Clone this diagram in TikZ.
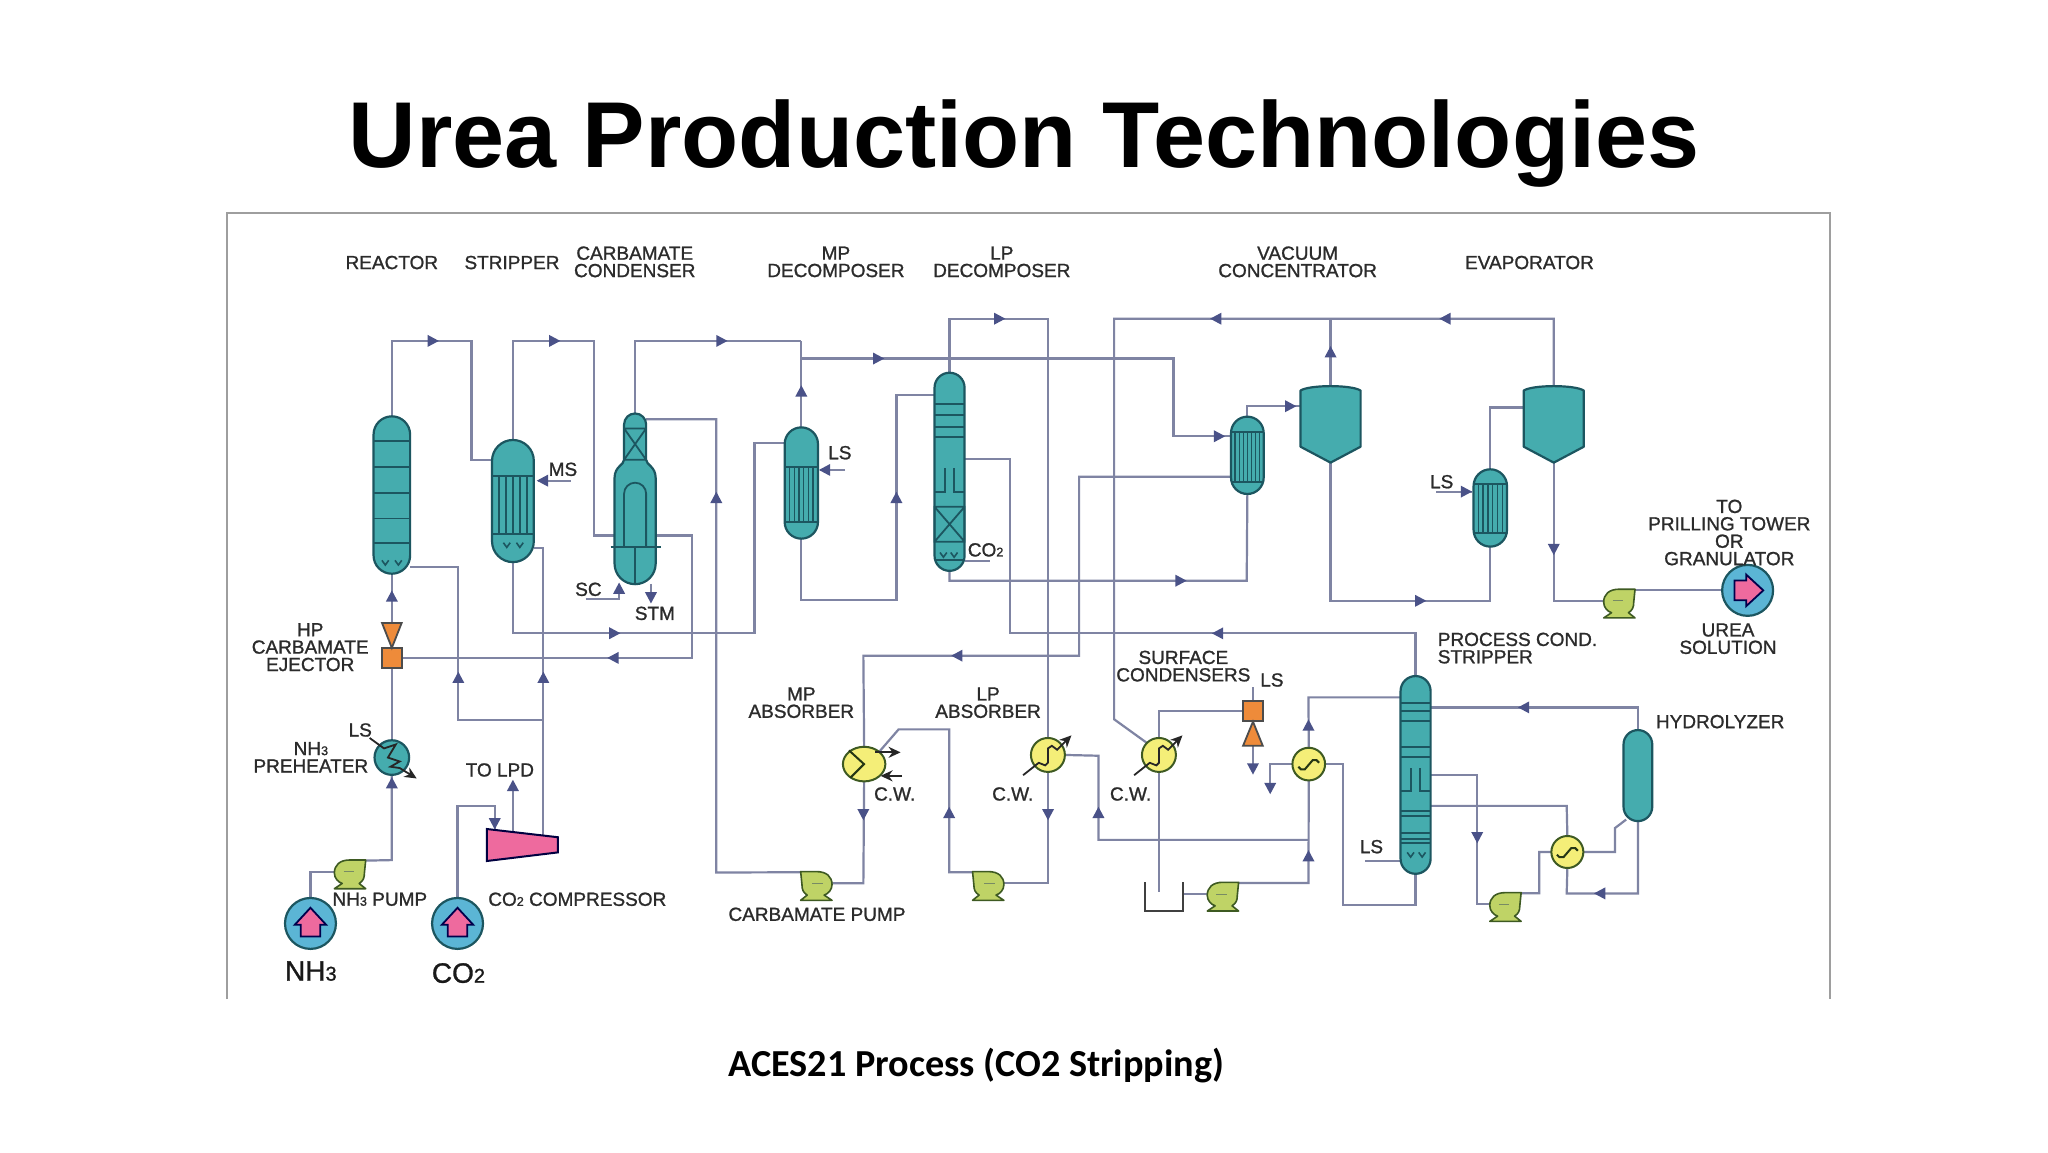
\documentclass[tikz,border=0pt]{standalone}
\usepackage{fontspec}
\setmainfont{Liberation Sans}
\newfontfamily\capfont{Carlito}
\newfontfamily\lblfont[FakeBold=1.1]{Liberation Sans}
\usetikzlibrary{arrows.meta,shapes.geometric}
\pgfdeclarelayer{bg}
\pgfsetlayers{bg,main}
\definecolor{teal1}{HTML}{45ACAE}
\definecolor{tealdk}{HTML}{1C5660}
\definecolor{pipec}{HTML}{7F84A3}
\definecolor{arrc}{HTML}{4A5288}
\definecolor{txt}{HTML}{2B2B2B}
\definecolor{pumpf}{HTML}{BFD366}
\definecolor{pumpd}{HTML}{3E5A22}
\definecolor{hxf}{HTML}{F4EE78}
\definecolor{orng}{HTML}{EE8B3A}
\definecolor{pinkf}{HTML}{EE6A9E}
\definecolor{bluef}{HTML}{5BB5D5}
\newcommand\lowsub[1]{{\fontsize{6.3}{6}\selectfont #1}}
\newcommand\bigsub[1]{{\fontsize{10}{10}\selectfont #1}}
\newcommand\tubebundle[5]{%
  \draw[inner] (#1,#3)--(#2,#3) (#1,#4)--(#2,#4);
  \foreach \k in {1,...,#5}{\draw[inner,line width=.7pt] ({#1+(#2-#1)*\k/(#5+1)},#3)--({#1+(#2-#1)*\k/(#5+1)},#4);}}
\newcommand\bub[2]{\draw[inner,line width=.8pt] ({#1-2.6},{#2-2})--(#1,{#2+1.6})--({#1+2.6},{#2-2});}
\newcommand\flowmark[3]{\path (#1,#2) pic[rotate=#3] {fa};}
\tikzset{
  x=0.65306pt,y=-0.65306pt,
  pipe/.style={draw=pipec,line width=1.1pt,line join=miter},
  inner/.style={draw=tealdk,line width=.9pt},
  lbl/.style={inner sep=0pt,text=txt,align=center,font=\lblfont\fontsize{9.5}{8.7}\selectfont},
  vessel/.style n args={2}{draw=tealdk,fill=teal1,line width=1.1pt,rectangle,inner sep=0pt,outer sep=0pt,
     rounded corners=0.5*#1*0.65306pt,minimum width=#1*0.65306pt,minimum height=#2*0.65306pt},
  ghost/.style n args={2}{rectangle,inner sep=0pt,outer sep=0pt,minimum width=#1*0.65306pt,minimum height=#2*0.65306pt},
  shellf/.style={draw=tealdk,fill=teal1,line width=1.1pt,line join=round},
  hx/.style={circle,draw=pumpd,fill=hxf,line width=1pt,inner sep=0pt,outer sep=0pt,minimum size=#1*0.65306pt},
  box/.style={rectangle,draw=black!70,fill=orng,line width=.9pt,inner sep=0pt,outer sep=0pt,minimum size=#1*0.65306pt},
  feed/.style={circle,draw=tealdk,fill=bluef,line width=1.1pt,inner sep=0pt,outer sep=0pt,minimum size=39*0.65306pt},
  cwarrow/.style={draw=black!85,line width=.9pt,-{Stealth[length=6pt,width=5.5pt]}},
  fa/.pic={\fill[arrc] (-3.6,-4.6)--(5,0)--(-3.6,4.6)--cycle;},
  pump/.pic={
    \draw[draw=pumpd,fill=pumpf,line width=.8pt,line join=round]
      (13,-9)--(1,-9) .. controls (-7,-9) and (-11,-5) .. (-11,1) .. controls (-11,5) and (-8,8) .. (-5,9)
      --(-11,13)--(13,13)--(8,9) .. controls (11,7) and (12,5) .. (12,1)--cycle;
    \draw[draw=pumpd!70,line width=.5pt] (-4,0)--(4,0);
    \coordinate (-c) at (0,0);
    \coordinate (-out) at (13,-8.5);
  },
  hxa/.pic={\draw[draw=black!85,line width=.9pt,-{Stealth[length=6pt,width=5.5pt]}]
     (-19,15.5)--(-7,6)--(-2,8)--(0,6)--(0,-5)--(3,-7)--(7,-4)--(18,-15);},
  hxb/.pic={\draw[draw=pumpd!60!black,line width=1pt] (-8,2)--(-6,4)--(-3,4)--(3,-3)--(6,-3)--(8,-1);},
  hxc/.pic={\draw[draw=black!85,line width=.9pt,-{Stealth[length=6pt,width=5.5pt]}]
     (-17,-15)--(-6,-7)--(3,-10)--(-3,0)--(6,3)--(-1,7)--(6,8)--(19,16);},
  inarrow/.pic={\draw[draw=black!70!blue,fill=pinkf,line width=.9pt,line join=miter]
     (0,-12)--(12,1)--(7.5,1)--(7.5,10)--(-7.5,10)--(-7.5,1)--(-12,1)--cycle;},
}
\begin{document}
\begin{tikzpicture}
\useasboundingbox (0,0) rectangle (1568,882);
\node[inner sep=0pt,anchor=base,text=black,font=\fontsize{46.8}{46.8}\selectfont\bfseries] (title) at (784,128.5) {Urea Production Technologies};
\node[inner sep=0pt,anchor=base,text=black,font=\capfont\fontsize{19.1}{19.1}\selectfont\bfseries] (caption) at (747.5,824) {ACES21 Process (CO2 Stripping)};

% vessels
\node[vessel={28}{120.5}] (reactor) at (300,379) {};
\foreach \y in {337.5,357.3,377.2,397,416}{\draw[inner] (reactor.west |- 0,\y)--(reactor.east |- 0,\y);}
\bub{295}{431}\bub{305}{431}
\node[vessel={32}{93.5}] (stripper) at (392.7,383.6) {};
\tubebundle{376.7}{408.7}{364.2}{408.8}{5}
\bub{388}{417.5}\bub{398}{417.5}
\node[vessel={25.5}{85.2}] (mpd) at (613.5,369.8) {};
\tubebundle{600.8}{626.2}{357.3}{399.4}{6}
\node[vessel={23}{151.7}] (lpd) at (727,361.2) {};
\foreach \y in {309.3,318,326.7,334.8,429}{\draw[inner] (lpd.west |- 0,\y)--(lpd.east |- 0,\y);}
\draw[inner] (715.5,376.4)--(723.7,376.4)--(723.7,358.6) (730.5,358.6)--(730.5,376.4)--(738.5,376.4);
\draw[inner] (715.5,388) rectangle (738.5,414.7) (715.5,388)--(738.5,414.7) (715.5,414.7)--(738.5,388);
\bub{722.3}{425}\bub{730.5}{425}
\node[vessel={25}{59.2}] (vacx) at (955,348.6) {};
\tubebundle{942.5}{967.5}{331}{368.8}{7}
\node[vessel={25.6}{59.2}] (evax) at (1141,388.9) {};
\tubebundle{1128.2}{1153.8}{370.6}{408.3}{6}
\node[vessel={23}{151.4}] (pcs) at (1083.8,593.3) {};
\foreach \y in {538.5,544.1,552,572.2,579.3,620.7,624.5,638,642.4,645.7}{\draw[inner] (pcs.west |- 0,\y)--(pcs.east |- 0,\y);}
\draw[inner] (1072.3,605.4)--(1080,605.4)--(1080,588.2) (1087.4,588.2)--(1087.4,605.4)--(1095.3,605.4);
\bub{1080}{654.6}\bub{1088.8}{654.6}
\node[vessel={22}{69.7}] (hyd) at (1254,593.8) {};

% hopper vessels
\foreach \nm/\cx in {vac/1018.7,eva/1189.6}{
  \draw[shellf] (\cx-23,299) .. controls (\cx-16,294.5) and (\cx+16,294.5) .. (\cx+23,299)
     --(\cx+23,342)--(\cx,354.2)--(\cx-23,342)--cycle;
  \node[ghost={46}{58.9}] (\nm) at (\cx,325) {};
}
% condenser
\draw[shellf] (477.8,325) arc[start angle=180,end angle=360,radius=8.45] --(494.7,352)
   .. controls (494.7,356) and (502,357) .. (502,366) --(502,431.5)
   arc[start angle=0,end angle=180,radius=15.75] --(470.5,366)
   .. controls (470.5,357) and (477.8,356) .. (477.8,352) --cycle;
\node[ghost={31.5}{131}] (cond) at (486.2,382) {};
\coordinate (condneck) at (494.7,321);
\draw[inner] (477.8,328)--(494.7,328) (477.8,352)--(494.7,352) (477.8,328)--(494.7,352) (494.7,328)--(477.8,352);
\draw[inner] (477.8,419)--(477.8,378) arc[start angle=180,end angle=360,radius=8.45] --(494.7,419);
\draw[inner] (467.5,419)--(506,419) (486.2,419)--(486.2,447);

% ejectors
\node[box=15] (ej1) at (300,503.7) {};
\draw[draw=black!70,fill=orng,line width=.9pt] (292.5,477)--(307.5,477)--(300,496)--cycle;
\coordinate (ej1top) at (300,477);
\node[box=15] (ej2) at (959.3,544.2) {};
\draw[draw=black!70,fill=orng,line width=.9pt] (951.7,571)--(966.8,571)--(959.3,552.5)--cycle;
\coordinate (ej2bot) at (959.3,571);

% compressor
\draw[draw=black!75!blue,fill=pinkf,line width=1pt,line join=miter] (372.7,634.7)--(427.2,641)--(427.2,652.6)--(372.7,659.2)--cycle;
\coordinate (compin) at (378.8,636);
\coordinate (compa) at (392.7,637);
\coordinate (compb) at (416,639);

% exchangers
\node[hx=26] (xlp) at (802.3,578) {};
\path (xlp) pic {hxa};
\node[hx=26] (xsc) at (887.3,578) {};
\path (xsc) pic {hxa};
\node[hx=25] (x2) at (1002,585) {};
\path (x2) pic {hxb};
\node[hx=24.5] (x3) at (1200,652.3) {};
\path (x3) pic {hxb};
\node[circle,draw=tealdk,fill=teal1,line width=1.1pt,inner sep=0pt,outer sep=0pt,minimum size=26.5*0.65306pt] (pre) at (300,580) {};
\path (pre) pic {hxc};
\node[ellipse,draw=pumpd,fill=hxf,line width=1pt,inner sep=0pt,outer sep=0pt,minimum width=32.5*0.65306pt,minimum height=26.5*0.65306pt] (xmp) at (661.6,585) {};
\draw[draw=pumpd!60!black,line width=1pt] (650,574.5)--(661.5,585)--(651,595.5);
\coordinate (xmpa) at (670,576);
\coordinate (xmpb) at (690.6,594);
\coordinate (xmpc) at (674.2,594);
\coordinate (xmpd) at (689.5,576);
\draw[cwarrow] (xmpa)--(xmpd);
\draw[cwarrow] (xmpb)--(xmpc);

% feed circles
\node[feed] (nh3f) at (237.7,707) {};
\path (nh3f) pic {inarrow};
\node[feed] (co2f) at (350.3,707) {};
\path (co2f) pic {inarrow};
\node[feed] (urea) at (1338,452) {};
\path (urea) pic[rotate=-90] {inarrow};

% pumps
\path (267,667.4) pic (p1) {pump};
\path (626,676.3) pic[xscale=-1] (p2) {pump};
\path (757.6,676.3) pic[xscale=-1] (p3) {pump};
\path (935.3,684.5) pic (p4) {pump};
\path (1151.6,692.4) pic (p5) {pump};
\path (1238.8,460.1) pic (p6) {pump};

% tank
\draw[draw=black!75,line width=1pt] (876.5,675.5)--(876.5,697.2)--(905.8,697.2)--(905.8,675.5);
\coordinate (tankr) at (905.8,684.5);
\coordinate (tanki) at (887.5,682.7);

% free ends
\coordinate (msa) at (436.9,368);
\coordinate (msb) at (412,368);
\coordinate (sca) at (448.4,458.6);
\coordinate (scb) at (474,448);
\coordinate (stma) at (498.4,447);
\coordinate (stmb) at (498.4,460);
\coordinate (lpda) at (392.7,598.5);
\coordinate (lsa) at (647,359.8);
\coordinate (lsb) at (628,359.8);
\coordinate (lsc) at (1099.8,376.4);
\coordinate (lsd) at (1127,376.4);
\coordinate (co2a) at (758,429.3);
\coordinate (lsf) at (1045,659);
\coordinate (lsg) at (959.3,525.7);
\coordinate (ej2out) at (959.3,590);
\coordinate (x2out) at (972.5,605);

\begin{pgfonlayer}{bg}
\fill[white] (0,0) rectangle (1568,882);
\draw[draw=black!38,line width=.8pt] (174,765)--(174,163)--(1401,163)--(1401,765);
\draw[pipe] (reactor.north)--(300,261)--(361,261)--(361,352)--(stripper.west |- 0,352);
\draw[pipe] (stripper.north)--(392.7,261)--(454.5,261)--(454.5,410)--(cond.west |- 0,410);
\draw[pipe] (cond.north)--(486.2,261)--(613.5,261);
\draw[pipe] (mpd.north)--(613.5,261);
\draw[pipe] (613.5,274.5)--(898.5,274.5)--(898.5,334)--(vacx.west |- 0,334);
\draw[pipe] (condneck)--(548.4,321)--(548.4,668)--(p2-out);
\draw[pipe] (p2-c)--(661,676.3)--(xmp.south);
\draw[pipe] (reactor.east |- 0,434.4)--(350.9,434.4)--(350.9,551)--(416,551);
\draw[pipe] (stripper.east |- 0,419.8)--(416,419.8)--(compb);
\draw[pipe] (stripper.south)--(392.7,484.8)--(577.7,484.8)--(577.7,338.9)--(mpd.west |- 0,338.9);
\draw[pipe] (ej1.east)--(530,503.7)--(530,410)--(cond.east |- 0,410);
\draw[pipe] (reactor.south)--(ej1top);
\draw[pipe] (ej1.south)--(pre.north);
\draw[pipe] (pre.south)--(300,658.5)--(p1-out);
\draw[pipe] (nh3f.north)--(237.7,667.4)--(p1-c);
\draw[pipe] (co2f.north)--(350.3,617)--(378.8,617)--(compin);
\draw[pipe] (compa)--(lpda);
\draw[pipe] (mpd.south)--(613.5,459.4)--(686.3,459.4)--(686.3,302.4)--(lpd.west |- 0,302.4);
\draw[pipe] (lpd.north)--(727,244)--(802.4,244)--(802.4,676.3)--(p3-c);
\draw[pipe] (p3-out)--(726.7,667.8)--(726.7,558.4)--(688,558.4)--(xmp.north east);
\draw[pipe] (lpd.east |- 0,351.7)--(773.5,351.7)--(773.5,484.9)--(1083.8,484.9)--(pcs.north);
\draw[pipe] (lpd.south)--(727,444.6)--(954.5,444.6)--(vacx.south);
\draw[pipe] (vacx.west |- 0,365)--(826.2,365)--(826.2,502)--(661,502)--(xmp.north);
\draw[pipe] (eva.north)--(1189.6,244)--(853,244)--(853,550.7)--(xsc.north west);
\draw[pipe] (vac.north)--(1018.7,244);
\draw[pipe] (vacx.north)--(955,311)--(vac.west |- 0,311);
\draw[pipe] (vac.south)--(1018.7,460)--(1141,460)--(evax.south);
\draw[pipe] (evax.north)--(1141,312)--(eva.west |- 0,312);
\draw[pipe] (eva.south)--(1189.6,460.1)--(p6-c);
\draw[pipe] (p6-out)--(urea.west |- p6-out);
\draw[pipe] (ej2.west)--(887.5,544.2)--(tanki);
\draw[pipe] (xlp.east)--(841,578.6)--(841,643)--(1001.8,643);
\draw[pipe] (tankr)--(p4-c);
\draw[pipe] (p4-out)--(1001.8,676)--(x2.south);
\draw[pipe] (x2.north)--(1001.8,533.9)--(pcs.west |- 0,533.9);
\draw[pipe] (x2.east)--(1028,585)--(1028,692.9)--(1083.8,692.9)--(pcs.south);
\draw[pipe] (x2.west)--(972.5,585)--(x2out);
\draw[pipe] (pcs.east |- 0,541.6)--(1254,541.6)--(hyd.north);
\draw[pipe] (pcs.east |- 0,593.4)--(1131,593.4)--(1131,692.4)--(p5-c);
\draw[pipe] (pcs.east |- 0,617)--(1199.5,617)--(x3.north);
\draw[pipe] (p5-out)--(1178.4,683.9)--(1178.4,652.3)--(x3.west);
\draw[pipe] (x3.east)--(1236.4,652.3)--(1236.4,634)--(1245,627.5);
\draw[pipe] (hyd.south)--(1254,684)--(1199.5,684)--(x3.south);
\draw[pipe] (ej2.north)--(lsg);
\draw[pipe] (ej2bot)--(ej2out);
\draw[pipe] (msa)--(msb);
\draw[pipe] (sca)--(474,458.6)--(scb);
\draw[pipe] (stma)--(stmb);
\draw[pipe] (lsa)--(lsb);
\draw[pipe] (lsc)--(lsd);
\draw[pipe] (lpd.east |- co2a)--(co2a);
\draw[pipe] (pcs.west |- lsf)--(lsf);
\end{pgfonlayer}

% flow marks
\flowmark{331}{261}{0}\flowmark{424}{261}{0}\flowmark{552}{261}{0}
\flowmark{672}{274.5}{0}\flowmark{933}{334}{0}\flowmark{764.7}{244}{0}
\flowmark{931.5}{244}{180}\flowmark{1107}{244}{180}\flowmark{613.5}{300}{90}
\flowmark{1018.7}{270}{90}\flowmark{987.5}{311}{0}\flowmark{1189.6}{420}{-90}
\flowmark{1087}{460}{0}\flowmark{903.5}{444.6}{0}\flowmark{932.9}{484.9}{180}
\flowmark{733.3}{502}{180}\flowmark{686.3}{381.5}{90}\flowmark{548.4}{381.5}{90}
\flowmark{300}{457}{90}\flowmark{470}{484.8}{0}\flowmark{470}{503.7}{180}
\flowmark{350.9}{519.3}{90}\flowmark{416}{519.3}{90}\flowmark{300}{600}{90}
\flowmark{378.8}{630}{-90}\flowmark{392.7}{602}{90}\flowmark{661}{623}{-90}
\flowmark{726.7}{622.7}{90}\flowmark{802.4}{623}{-90}\flowmark{841}{622.7}{90}
\flowmark{1001.8}{555.8}{90}\flowmark{1001.8}{655.9}{90}\flowmark{959.3}{588}{-90}
\flowmark{972.5}{603}{-90}\flowmark{1131}{640.6}{-90}\flowmark{1167.2}{541.6}{180}
\flowmark{1225.4}{684}{180}\flowmark{416}{368}{180}\flowmark{632}{359.8}{180}
\flowmark{1122}{376.4}{0}\flowmark{474}{451}{90}\flowmark{498.4}{457}{-90}

% labels
\node[lbl] (t1) at (300,201) {REACTOR};
\node[lbl] (t2) at (392,201) {STRIPPER};
\node[lbl] (t3) at (486,200.5) {CARBAMATE\\CONDENSER};
\node[lbl] (t4) at (640,200.5) {MP\\DECOMPOSER};
\node[lbl] (t5) at (767,200.5) {LP\\DECOMPOSER};
\node[lbl] (t6) at (993.5,200.5) {VACUUM\\CONCENTRATOR};
\node[lbl] (t7) at (1171,201) {EVAPORATOR};
\node[lbl] (t8) at (431,359.3) {MS};
\node[lbl] (t9) at (450.5,451.2) {SC};
\node[lbl] (t10) at (501.4,469.6) {STM};
\node[lbl] (t11) at (643,346.6) {LS};
\node[lbl] (t12) at (754.6,421) {CO\lowsub{2}};
\node[lbl] (t13) at (1103.8,368.8) {LS};
\node[lbl] (t14) at (1324,407.7) {TO\\PRILLING TOWER\\OR\\GRANULATOR};
\node[lbl] (t15) at (1323,489) {UREA\\SOLUTION};
\node[lbl,anchor=west,align=left] (t16) at (1100.5,496.2) {PROCESS COND.\\STRIPPER};
\node[lbl] (t17) at (237.5,495.5) {HP\\CARBAMATE\\EJECTOR};
\node[lbl] (t18) at (275.8,558.9) {LS};
\node[lbl] (t19) at (238,579.8) {NH\lowsub{3}\\PREHEATER};
\node[lbl] (t20) at (382.7,589.5) {TO LPD};
\node[lbl] (t21) at (290.8,688.5) {NH\lowsub{3} PUMP};
\node[lbl] (t22) at (442,688.5) {CO\lowsub{2} COMPRESSOR};
\node[lbl,text=black!90,font=\lblfont\fontsize{14}{14}\selectfont] (t23) at (238,743.5) {NH\bigsub{3}};
\node[lbl,text=black!90,font=\lblfont\fontsize{14}{14}\selectfont] (t24) at (351,745) {CO\bigsub{2}};
\node[lbl] (t25) at (613.5,538) {MP\\ABSORBER};
\node[lbl] (t26) at (756.5,538) {LP\\ABSORBER};
\node[lbl] (t27) at (685,607.9) {C.W.};
\node[lbl] (t28) at (775.4,607.9) {C.W.};
\node[lbl] (t29) at (865.6,607.9) {C.W.};
\node[lbl] (t30) at (906,510) {SURFACE\\CONDENSERS};
\node[lbl] (t31) at (973.8,520.6) {LS};
\node[lbl] (t32) at (625.5,700) {CARBAMATE PUMP};
\node[lbl] (t33) at (1050,648.2) {LS};
\node[lbl] (t34) at (1317,552.5) {HYDROLYZER};
\end{tikzpicture}
\end{document}
